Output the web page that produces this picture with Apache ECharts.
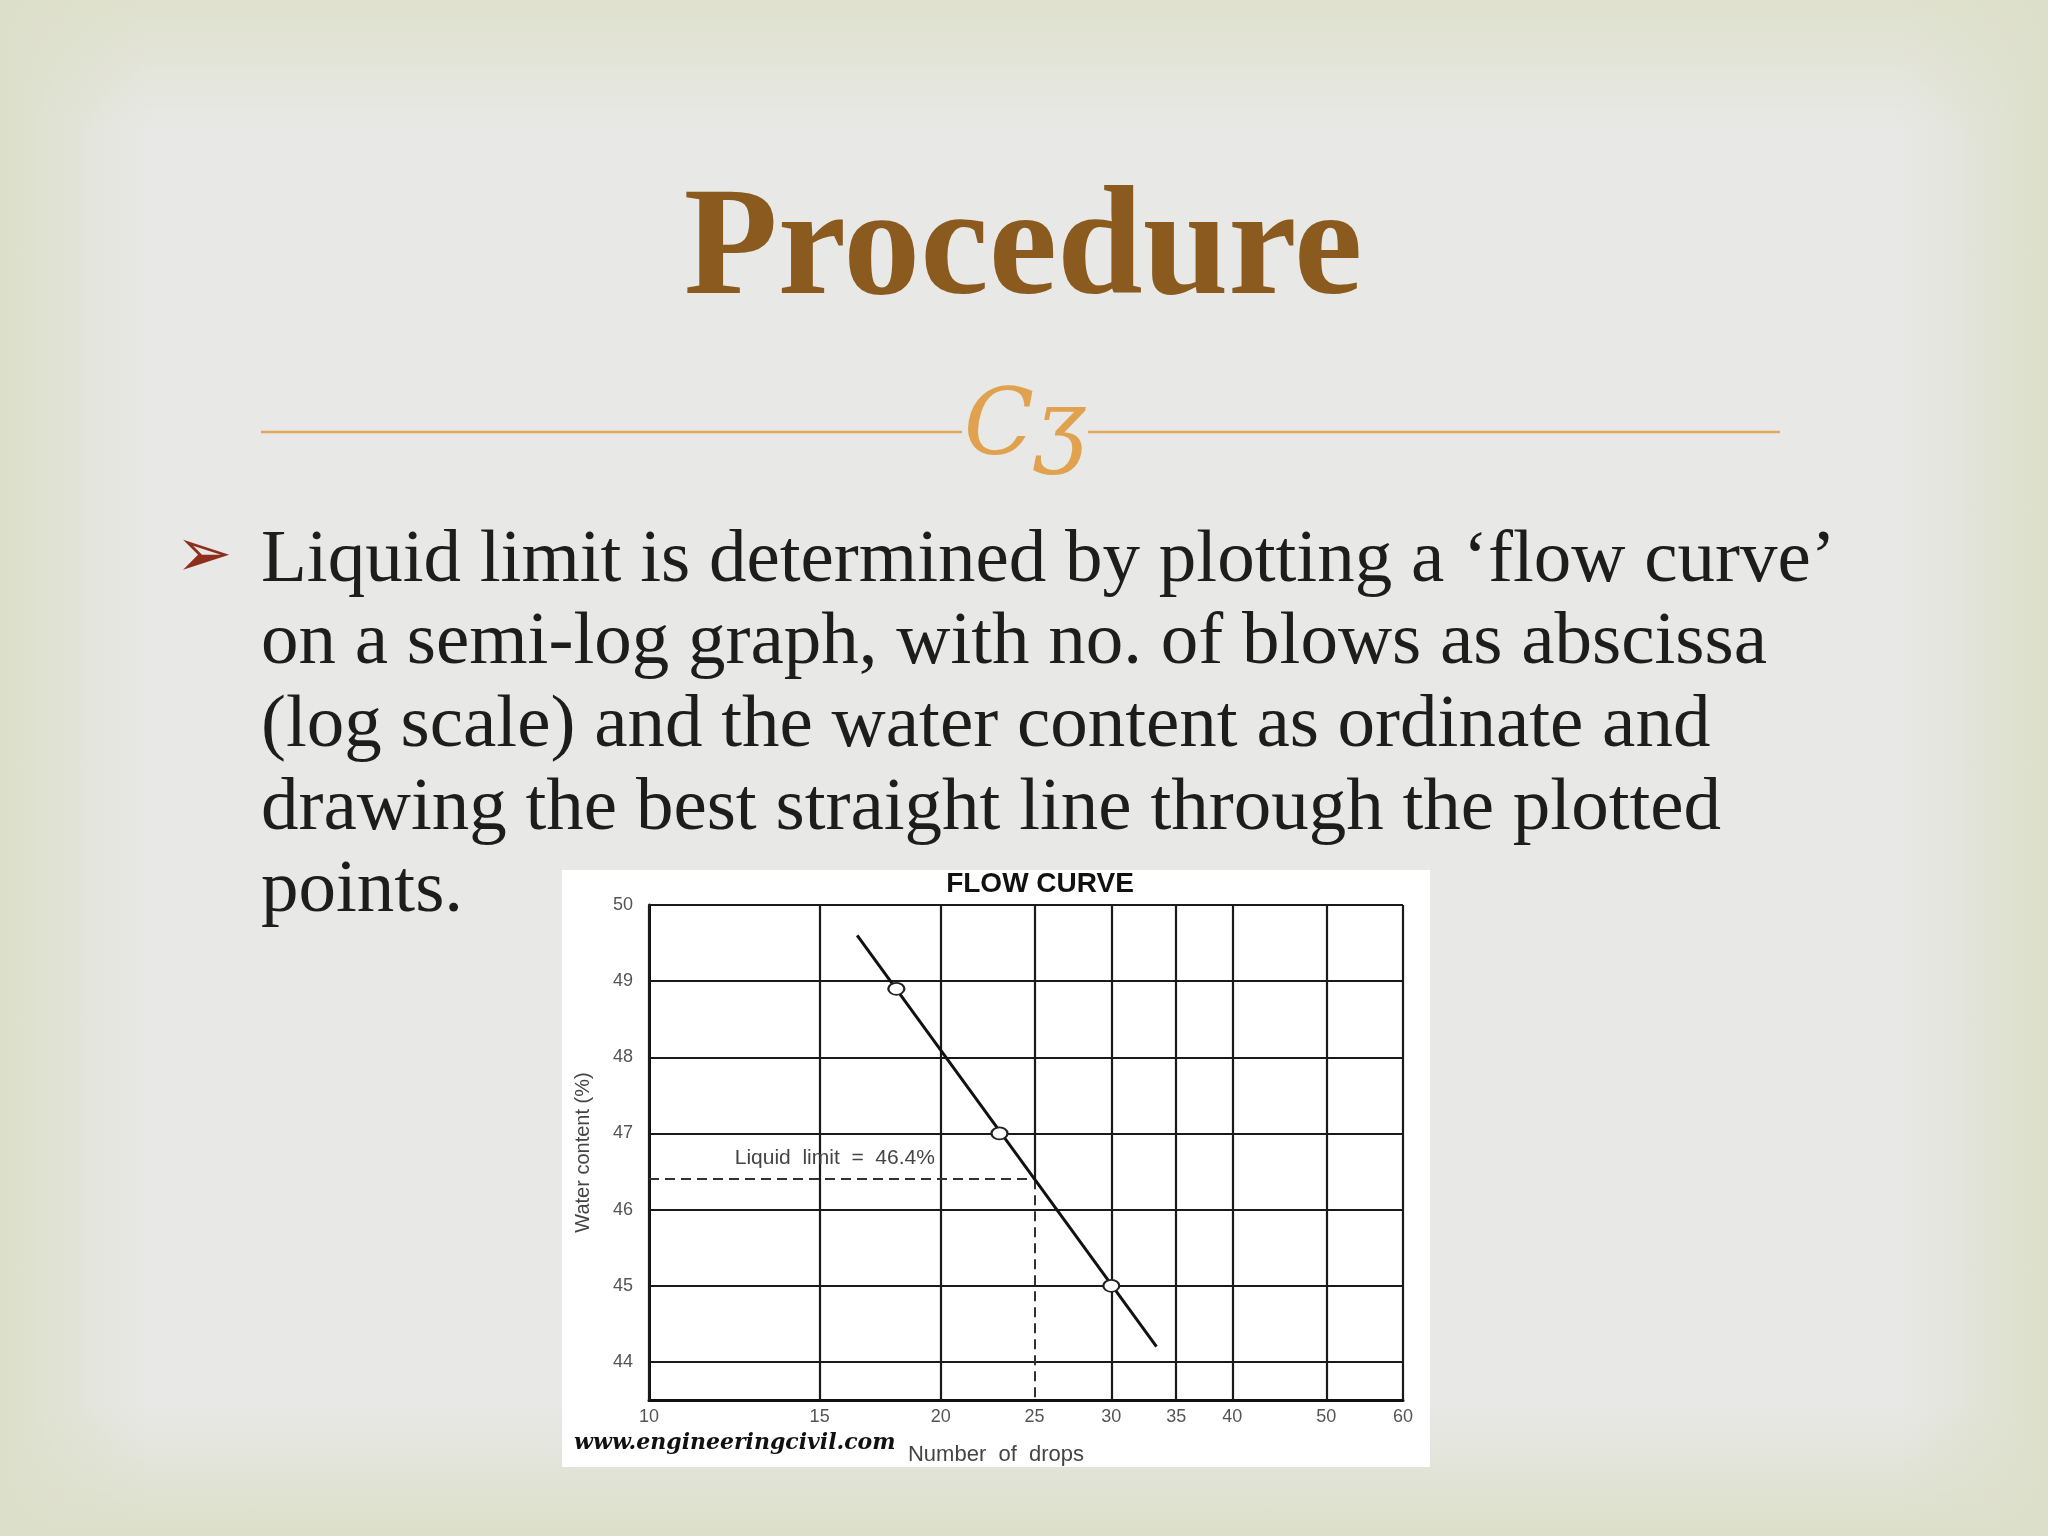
<!DOCTYPE html>
<html><head><meta charset="utf-8">
<script src="https://cdn.jsdelivr.net/npm/echarts@6/dist/echarts.min.js"></script>
<style>
html,body{margin:0;padding:0;width:2048px;height:1536px;overflow:hidden;background:#e8e8e6;}
#bg{position:absolute;left:0;top:0;width:2048px;height:1536px;
  background:
    linear-gradient(to right, #dcdfca 0px, rgba(232,232,230,0) 150px, rgba(232,232,230,0) 1898px, #dcdfca 2048px),
    linear-gradient(to bottom, #dfe1ce 0px, rgba(232,232,230,0) 130px, rgba(232,232,230,0) 1406px, #dcdfca 1536px),
    #e8e8e6;}
#chart{position:absolute;left:0;top:0;width:2048px;height:1536px;}
</style></head>
<body><div id="bg"></div><div id="chart"></div>
<script>
// ---- text ----
const slideTitle = 'Procedure';
const bulletLines = [
  'Liquid limit is determined by plotting a \u2018flow curve\u2019',
  'on a semi-log graph, with no. of blows as abscissa',
  '(log scale) and the water content as ordinate and',
  'drawing the best straight line through the plotted',
  'points.'
];
const chartTitle = 'FLOW CURVE';
const xAxisName = 'Number  of  drops';
const yAxisName = 'Water content (%)';
const watermark = 'www.engineeringcivil.com';

// ---- axes / ticks ----
const xTicks = [10, 15, 20, 25, 30, 35, 40, 50, 60];
const yTicks = [44, 45, 46, 47, 48, 49, 50];
const xMin = 10, xMax = 60;
const yMin = 43.5, yMax = 50;

// ---- data ----
const testDrops = [18, 23, 30];
const testWater = [48.9, 47.0, 45.0];
const fitDrops = [16.4, 33.4];
const fitWater = [49.6, 44.2];
const liquidLimitDrops = 25;
const liquidLimitWater = 46.4;

const chart = echarts.init(document.getElementById('chart'));
const sans = '"Liberation Sans", Arial, sans-serif';
const serif = '"Liberation Serif", "Times New Roman", serif';

const graphics = [
  {type:'rect', shape:{x:562, y:870, width:868, height:597}, style:{fill:'#ffffff'}},
  {type:'text', x:1023, y:253, style:{text:slideTitle, fontSize:154, fontWeight:'bold', fontFamily:serif, fill:'#8b5a1e', align:'center', verticalAlign:'middle'}},
  {type:'line', shape:{x1:261, y1:432, x2:962, y2:432}, style:{stroke:'#e2a95e', lineWidth:2.5}},
  {type:'line', shape:{x1:1088, y1:432, x2:1780, y2:432}, style:{stroke:'#e2a95e', lineWidth:2.5}},
  {type:'text', x:1025, y:430, style:{text:'C\u0292', fontSize:92, fontStyle:'italic', fontFamily:'"DejaVu Serif", serif', fill:'#e0a24e', align:'center', verticalAlign:'middle'}},
  {type:'text', x:204, y:558, style:{text:'\u27A2', fontSize:68, fontFamily:'"DejaVu Sans", sans-serif', fill:'#8e2f1d', align:'center', verticalAlign:'middle'}},
  {type:'text', x:1040, y:884, style:{text:chartTitle, fontSize:28, fontWeight:'bold', fontFamily:sans, fill:'#111', align:'center', verticalAlign:'middle'}},
  {type:'text', x:574, y:1443, style:{text:watermark, fontSize:22, fontWeight:'bold', fontStyle:'italic', fontFamily:'"DejaVu Serif", serif', fill:'#111', align:'left', verticalAlign:'middle'}}
];
bulletLines.forEach((t, i) => {
  graphics.push({type:'text', x:261, y:561 + i*82.6, style:{text:t, fontSize:75, fontFamily:serif, fill:'#1d1d1d', align:'left', verticalAlign:'middle'}});
});

// grid lines: full vertical lines except at the liquid-limit abscissa, which is solid only above the limit
const gridLines = xTicks.filter(v => v !== liquidLimitDrops).map(v => ({xAxis: v}))
  .concat(yTicks.map(v => ({yAxis: v})));
const gridSegments = [[{coord: [liquidLimitDrops, liquidLimitWater]}, {coord: [liquidLimitDrops, yMax]}]];

chart.setOption({
  backgroundColor: 'transparent',
  animation: false,
  graphic: graphics,
  grid: {left: 649, top: 905, width: 754, height: 495, containLabel: false},
  xAxis: {
    type: 'log', logBase: 10, min: xMin, max: xMax,
    name: xAxisName, nameLocation: 'middle', nameGap: 44,
    nameTextStyle: {fontSize: 22, fontFamily: sans, color: '#444', padding: [0, 60, 0, 0]},
    axisLine: {show: true, lineStyle: {color: '#111', width: 3}},
    axisTick: {show: false},
    minorTick: {show: false},
    splitLine: {show: false},
    axisLabel: {customValues: xTicks, fontSize: 18, fontFamily: sans, color: '#555', margin: 8}
  },
  yAxis: {
    type: 'value', min: yMin, max: yMax, interval: 0.5,
    name: yAxisName, nameLocation: 'middle', nameGap: 56, nameRotate: 90,
    nameTextStyle: {fontSize: 20, fontFamily: sans, color: '#444'},
    axisLine: {show: true, lineStyle: {color: '#111', width: 3}},
    axisTick: {show: false},
    splitLine: {show: false},
    axisLabel: {customValues: yTicks, formatter: v => (yTicks.indexOf(v) >= 0 ? String(v) : ''), fontSize: 18, fontFamily: sans, color: '#555', margin: 16}
  },
  series: [
    {
      name: 'grid', type: 'line', data: [], silent: true,
      markLine: {silent: true, symbol: ['none', 'none'], label: {show: false},
        lineStyle: {color: '#1a1a1a', width: 2.2, type: 'solid'}, emphasis: {disabled: true},
        data: gridLines.concat(gridSegments)}
    },
    {
      name: 'liquid limit', type: 'line', data: [], silent: true,
      markLine: {silent: true, symbol: ['none', 'none'], emphasis: {disabled: true},
        lineStyle: {color: '#333', width: 2, type: [10, 6]},
        data: [
          [{coord: [xMin, liquidLimitWater], label: {show: true, position: 'insideMiddleTop', distance: 10,
              formatter: 'Liquid  limit  =  ' + liquidLimitWater + '%', color: '#444', fontSize: 21, fontFamily: sans, padding: [0, 14, 0, 0]}},
           {coord: [liquidLimitDrops, liquidLimitWater]}],
          [{coord: [liquidLimitDrops, liquidLimitWater], label: {show: false}}, {coord: [liquidLimitDrops, yMin]}]
        ]}
    },
    {
      name: 'flow curve', type: 'line', z: 5, symbol: 'none',
      lineStyle: {color: '#111', width: 3},
      data: fitDrops.map((d, i) => [d, fitWater[i]])
    },
    {
      name: 'tests', type: 'scatter', z: 6, symbol: 'circle', symbolSize: [16, 12],
      itemStyle: {color: '#ffffff', opacity: 1, borderColor: '#222', borderWidth: 2},
      data: testDrops.map((d, i) => [d, testWater[i]])
    }
  ]
});
</script>
</body></html>
